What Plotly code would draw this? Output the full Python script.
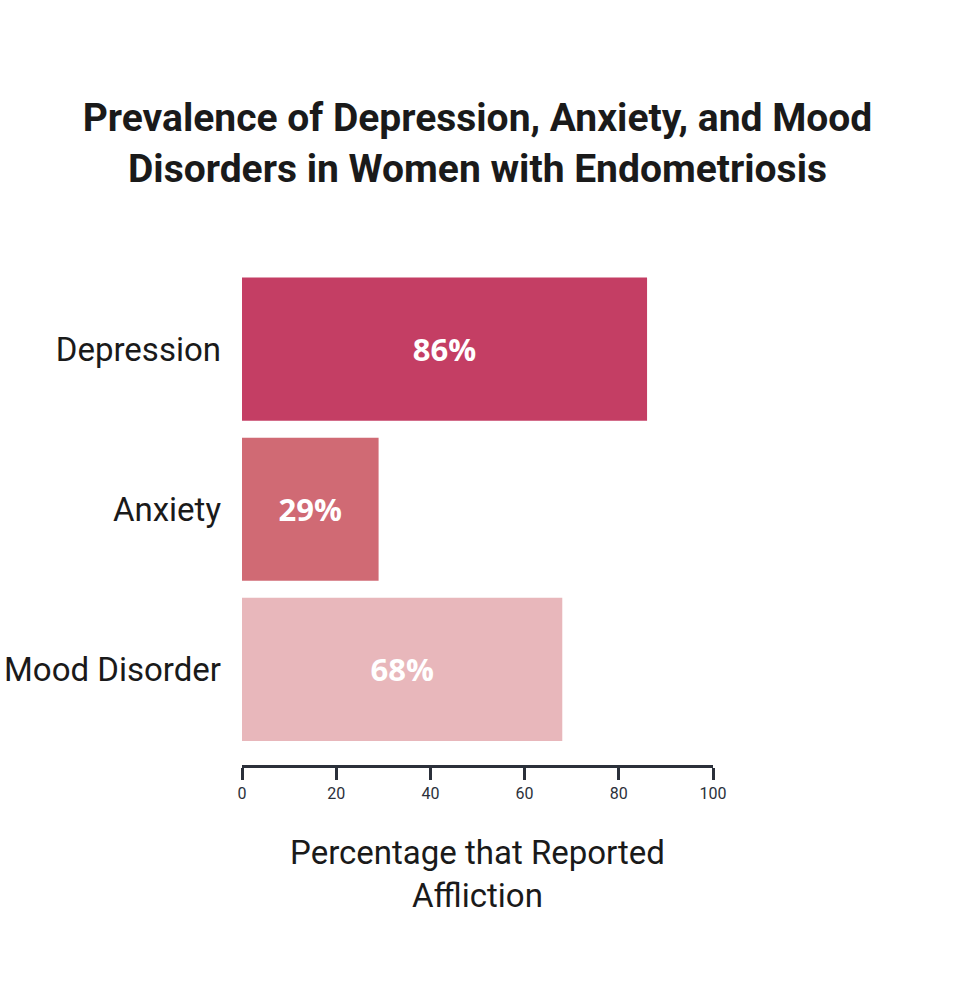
import plotly.graph_objects as go

categories = ["Depression", "Anxiety", "Mood Disorder"]
values = [86, 29, 68]
labels = ["86%", "29%", "68%"]
colors = ["#C43E64", "#D06A74", "#E8B7BB"]
x_ticks = [0, 20, 40, 60, 80, 100]

fig = go.Figure(go.Bar(
    y=categories, x=values, orientation="h",
    marker=dict(color=colors, line=dict(width=0)),
    text=labels, textposition="inside", insidetextanchor="middle",
    textfont=dict(family="Open Sans", size=31, color="white", weight="bold"),
    width=0.894,
))

fig.update_layout(
    width=978, height=986,
    paper_bgcolor="white", plot_bgcolor="white",
    margin=dict(l=242, r=265, t=269, b=221),
    showlegend=False,
    title=dict(
        text="<b>Prevalence of Depression, Anxiety, and Mood<br>Disorders in Women with Endometriosis</b>",
        font=dict(family="Roboto", size=39, color="#1a1a1a"),
        x=0.5, xref="paper", xanchor="center",
        y=1 - 131/986, yref="container", yanchor="middle",
    ),
    xaxis=dict(
        range=[0, 100], tickvals=x_ticks, automargin=False,
        showgrid=False, zeroline=False,
        showline=True, linecolor="#2B303A", linewidth=3,
        ticks="outside", ticklen=12, tickwidth=3, tickcolor="#2B303A",
        tickfont=dict(family="Roboto", size=16, color="#2B303A"),
        title=dict(text="Percentage that Reported<br>Affliction",
                   font=dict(family="Roboto", size=33, color="#1a1a1a"), standoff=39),
    ),
    yaxis=dict(
        categoryorder="array", categoryarray=categories,
        range=[2.597, -0.5], automargin=False,
        showgrid=False, zeroline=False, showline=False,
        ticks="", ticklabelstandoff=20,
        tickfont=dict(family="Roboto", size=33, color="#1a1a1a"),
    ),
)

fig.write_html("out.html")
